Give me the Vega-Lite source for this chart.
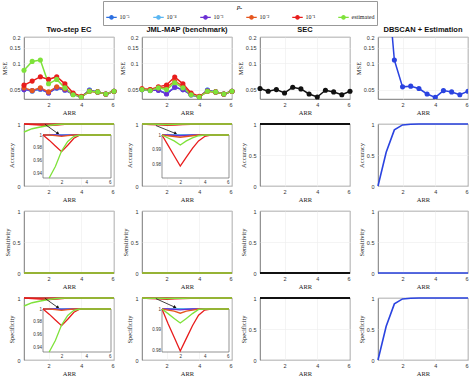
{
  "$schema": "https://vega.github.io/schema/vega-lite/v6.json",
  "padding": {"left": 0, "right": 2, "top": 0, "bottom": 0},
  "background": "white",
  "datasets": {
    "mse1": [
      {"ARR": 0.5, "10⁻⁵": 0.0500, "10⁻⁴": 0.0500, "10⁻³": 0.0500, "10⁻²": 0.0523, "10⁻¹": 0.0562, "estimated": 0.0833},
      {"ARR": 1, "10⁻⁵": 0.0482, "10⁻⁴": 0.0482, "10⁻³": 0.0487, "10⁻²": 0.0487, "10⁻¹": 0.0625, "estimated": 0.1051},
      {"ARR": 1.5, "10⁻⁵": 0.0505, "10⁻⁴": 0.0505, "10⁻³": 0.0510, "10⁻²": 0.0523, "10⁻¹": 0.0702, "estimated": 0.1089},
      {"ARR": 2, "10⁻⁵": 0.0460, "10⁻⁴": 0.0460, "10⁻³": 0.0457, "10⁻²": 0.0470, "10⁻¹": 0.0654, "estimated": 0.0582},
      {"ARR": 2.5, "10⁻⁵": 0.0520, "10⁻⁴": 0.0520, "10⁻³": 0.0523, "10⁻²": 0.0537, "10⁻¹": 0.0702, "estimated": 0.0654},
      {"ARR": 3, "10⁻⁵": 0.0495, "10⁻⁴": 0.0495, "10⁻³": 0.0495, "10⁻²": 0.0510, "10⁻¹": 0.0582, "estimated": 0.0523},
      {"ARR": 3.5, "10⁻⁵": 0.0440, "10⁻⁴": 0.0440, "10⁻³": 0.0445, "10⁻²": 0.0445, "10⁻¹": 0.0457, "estimated": 0.0437},
      {"ARR": 4, "10⁻⁵": 0.0411, "10⁻⁴": 0.0411, "10⁻³": 0.0411, "10⁻²": 0.0411, "10⁻¹": 0.0418, "estimated": 0.0411},
      {"ARR": 4.5, "10⁻⁵": 0.0495, "10⁻⁴": 0.0495, "10⁻³": 0.0487, "10⁻²": 0.0478, "10⁻¹": 0.0478, "estimated": 0.0478},
      {"ARR": 5, "10⁻⁵": 0.0470, "10⁻⁴": 0.0470, "10⁻³": 0.0470, "10⁻²": 0.0470, "10⁻¹": 0.0470, "estimated": 0.0470},
      {"ARR": 5.5, "10⁻⁵": 0.0445, "10⁻⁴": 0.0445, "10⁻³": 0.0445, "10⁻²": 0.0445, "10⁻¹": 0.0445, "estimated": 0.0445},
      {"ARR": 6, "10⁻⁵": 0.0478, "10⁻⁴": 0.0478, "10⁻³": 0.0478, "10⁻²": 0.0478, "10⁻¹": 0.0478, "estimated": 0.0478}
    ],
    "mse2": [
      {"ARR": 0.5, "10⁻⁵": 0.0500, "10⁻⁴": 0.0500, "10⁻³": 0.0500, "10⁻²": 0.0509, "10⁻¹": 0.0509, "estimated": 0.0500},
      {"ARR": 1, "10⁻⁵": 0.0490, "10⁻⁴": 0.0490, "10⁻³": 0.0490, "10⁻²": 0.0500, "10⁻¹": 0.0500, "estimated": 0.0487},
      {"ARR": 1.5, "10⁻⁵": 0.0495, "10⁻⁴": 0.0495, "10⁻³": 0.0490, "10⁻²": 0.0523, "10⁻¹": 0.0537, "estimated": 0.0523},
      {"ARR": 2, "10⁻⁵": 0.0450, "10⁻⁴": 0.0450, "10⁻³": 0.0445, "10⁻²": 0.0530, "10⁻¹": 0.0565, "estimated": 0.0500},
      {"ARR": 2.5, "10⁻⁵": 0.0530, "10⁻⁴": 0.0530, "10⁻³": 0.0532, "10⁻²": 0.0625, "10⁻¹": 0.0696, "estimated": 0.0598},
      {"ARR": 3, "10⁻⁵": 0.0500, "10⁻⁴": 0.0500, "10⁻³": 0.0500, "10⁻²": 0.0547, "10⁻¹": 0.0582, "estimated": 0.0523},
      {"ARR": 3.5, "10⁻⁵": 0.0437, "10⁻⁴": 0.0437, "10⁻³": 0.0437, "10⁻²": 0.0445, "10⁻¹": 0.0457, "estimated": 0.0437},
      {"ARR": 4, "10⁻⁵": 0.0411, "10⁻⁴": 0.0411, "10⁻³": 0.0411, "10⁻²": 0.0415, "10⁻¹": 0.0418, "estimated": 0.0411},
      {"ARR": 4.5, "10⁻⁵": 0.0495, "10⁻⁴": 0.0495, "10⁻³": 0.0487, "10⁻²": 0.0478, "10⁻¹": 0.0478, "estimated": 0.0478},
      {"ARR": 5, "10⁻⁵": 0.0470, "10⁻⁴": 0.0470, "10⁻³": 0.0470, "10⁻²": 0.0470, "10⁻¹": 0.0470, "estimated": 0.0470},
      {"ARR": 5.5, "10⁻⁵": 0.0445, "10⁻⁴": 0.0445, "10⁻³": 0.0445, "10⁻²": 0.0445, "10⁻¹": 0.0445, "estimated": 0.0445},
      {"ARR": 6, "10⁻⁵": 0.0478, "10⁻⁴": 0.0478, "10⁻³": 0.0478, "10⁻²": 0.0478, "10⁻¹": 0.0478, "estimated": 0.0478}
    ],
    "acc1": [
      {"ARR": 0.5, "10⁻⁵": 1, "10⁻⁴": 1, "10⁻³": 1, "10⁻²": 1, "10⁻¹": 1, "estimated": 0.87},
      {"ARR": 1, "10⁻⁵": 1, "10⁻⁴": 1, "10⁻³": 1, "10⁻²": 1, "10⁻¹": 0.992, "estimated": 0.925},
      {"ARR": 1.5, "10⁻⁵": 1, "10⁻⁴": 1, "10⁻³": 1, "10⁻²": 0.999, "10⁻¹": 0.983, "estimated": 0.951},
      {"ARR": 2, "10⁻⁵": 1, "10⁻⁴": 1, "10⁻³": 0.9995, "10⁻²": 0.998, "10⁻¹": 0.974, "estimated": 0.975},
      {"ARR": 2.5, "10⁻⁵": 1, "10⁻⁴": 1, "10⁻³": 0.9998, "10⁻²": 0.999, "10⁻¹": 0.984, "estimated": 0.99},
      {"ARR": 3, "10⁻⁵": 1, "10⁻⁴": 1, "10⁻³": 1, "10⁻²": 1, "10⁻¹": 0.995, "estimated": 0.998},
      {"ARR": 3.5, "10⁻⁵": 1, "10⁻⁴": 1, "10⁻³": 1, "10⁻²": 1, "10⁻¹": 1, "estimated": 1},
      {"ARR": 4, "10⁻⁵": 1, "10⁻⁴": 1, "10⁻³": 1, "10⁻²": 1, "10⁻¹": 1, "estimated": 1},
      {"ARR": 4.5, "10⁻⁵": 1, "10⁻⁴": 1, "10⁻³": 1, "10⁻²": 1, "10⁻¹": 1, "estimated": 1},
      {"ARR": 5, "10⁻⁵": 1, "10⁻⁴": 1, "10⁻³": 1, "10⁻²": 1, "10⁻¹": 1, "estimated": 1},
      {"ARR": 5.5, "10⁻⁵": 1, "10⁻⁴": 1, "10⁻³": 1, "10⁻²": 1, "10⁻¹": 1, "estimated": 1},
      {"ARR": 6, "10⁻⁵": 1, "10⁻⁴": 1, "10⁻³": 1, "10⁻²": 1, "10⁻¹": 1, "estimated": 1}
    ],
    "acc2": [
      {"ARR": 0.5, "10⁻⁵": 1, "10⁻⁴": 1, "10⁻³": 1, "10⁻²": 1, "10⁻¹": 1, "estimated": 1},
      {"ARR": 1, "10⁻⁵": 1, "10⁻⁴": 1, "10⁻³": 1, "10⁻²": 0.9995, "10⁻¹": 0.993, "estimated": 0.998},
      {"ARR": 1.5, "10⁻⁵": 1, "10⁻⁴": 1, "10⁻³": 0.9998, "10⁻²": 0.999, "10⁻¹": 0.986, "estimated": 0.996},
      {"ARR": 2, "10⁻⁵": 1, "10⁻⁴": 1, "10⁻³": 0.9995, "10⁻²": 0.9985, "10⁻¹": 0.979, "estimated": 0.9933},
      {"ARR": 2.5, "10⁻⁵": 1, "10⁻⁴": 1, "10⁻³": 0.9998, "10⁻²": 0.999, "10⁻¹": 0.985, "estimated": 0.996},
      {"ARR": 3, "10⁻⁵": 1, "10⁻⁴": 1, "10⁻³": 1, "10⁻²": 0.9995, "10⁻¹": 0.991, "estimated": 0.998},
      {"ARR": 3.5, "10⁻⁵": 1, "10⁻⁴": 1, "10⁻³": 1, "10⁻²": 1, "10⁻¹": 0.996, "estimated": 0.9995},
      {"ARR": 4, "10⁻⁵": 1, "10⁻⁴": 1, "10⁻³": 1, "10⁻²": 1, "10⁻¹": 0.999, "estimated": 1},
      {"ARR": 4.5, "10⁻⁵": 1, "10⁻⁴": 1, "10⁻³": 1, "10⁻²": 1, "10⁻¹": 1, "estimated": 1},
      {"ARR": 5, "10⁻⁵": 1, "10⁻⁴": 1, "10⁻³": 1, "10⁻²": 1, "10⁻¹": 1, "estimated": 1},
      {"ARR": 5.5, "10⁻⁵": 1, "10⁻⁴": 1, "10⁻³": 1, "10⁻²": 1, "10⁻¹": 1, "estimated": 1},
      {"ARR": 6, "10⁻⁵": 1, "10⁻⁴": 1, "10⁻³": 1, "10⁻²": 1, "10⁻¹": 1, "estimated": 1}
    ],
    "spec2": [
      {"ARR": 0.5, "10⁻⁵": 1, "10⁻⁴": 1, "10⁻³": 1, "10⁻²": 1, "10⁻¹": 1, "estimated": 1},
      {"ARR": 1, "10⁻⁵": 1, "10⁻⁴": 1, "10⁻³": 1, "10⁻²": 0.9995, "10⁻¹": 0.993, "estimated": 0.9978},
      {"ARR": 1.5, "10⁻⁵": 1, "10⁻⁴": 1, "10⁻³": 0.9998, "10⁻²": 0.999, "10⁻¹": 0.9865, "estimated": 0.9955},
      {"ARR": 2, "10⁻⁵": 1, "10⁻⁴": 1, "10⁻³": 0.9996, "10⁻²": 0.998, "10⁻¹": 0.98, "estimated": 0.9933},
      {"ARR": 2.5, "10⁻⁵": 1, "10⁻⁴": 1, "10⁻³": 0.9998, "10⁻²": 0.999, "10⁻¹": 0.986, "estimated": 0.9955},
      {"ARR": 3, "10⁻⁵": 1, "10⁻⁴": 1, "10⁻³": 1, "10⁻²": 0.9995, "10⁻¹": 0.992, "estimated": 0.9978},
      {"ARR": 3.5, "10⁻⁵": 1, "10⁻⁴": 1, "10⁻³": 1, "10⁻²": 1, "10⁻¹": 0.997, "estimated": 0.9998},
      {"ARR": 4, "10⁻⁵": 1, "10⁻⁴": 1, "10⁻³": 1, "10⁻²": 1, "10⁻¹": 0.9995, "estimated": 1},
      {"ARR": 4.5, "10⁻⁵": 1, "10⁻⁴": 1, "10⁻³": 1, "10⁻²": 1, "10⁻¹": 1, "estimated": 1},
      {"ARR": 5, "10⁻⁵": 1, "10⁻⁴": 1, "10⁻³": 1, "10⁻²": 1, "10⁻¹": 1, "estimated": 1},
      {"ARR": 5.5, "10⁻⁵": 1, "10⁻⁴": 1, "10⁻³": 1, "10⁻²": 1, "10⁻¹": 1, "estimated": 1},
      {"ARR": 6, "10⁻⁵": 1, "10⁻⁴": 1, "10⁻³": 1, "10⁻²": 1, "10⁻¹": 1, "estimated": 1}
    ],
    "sens": [
      {"ARR": 0.5, "10⁻⁵": 0, "10⁻⁴": 0, "10⁻³": 0, "10⁻²": 0, "10⁻¹": 0, "estimated": 0},
      {"ARR": 1, "10⁻⁵": 0, "10⁻⁴": 0, "10⁻³": 0, "10⁻²": 0, "10⁻¹": 0, "estimated": 0},
      {"ARR": 1.5, "10⁻⁵": 0, "10⁻⁴": 0, "10⁻³": 0, "10⁻²": 0, "10⁻¹": 0, "estimated": 0},
      {"ARR": 2, "10⁻⁵": 0, "10⁻⁴": 0, "10⁻³": 0, "10⁻²": 0, "10⁻¹": 0, "estimated": 0},
      {"ARR": 2.5, "10⁻⁵": 0, "10⁻⁴": 0, "10⁻³": 0, "10⁻²": 0, "10⁻¹": 0, "estimated": 0},
      {"ARR": 3, "10⁻⁵": 0, "10⁻⁴": 0, "10⁻³": 0, "10⁻²": 0, "10⁻¹": 0, "estimated": 0},
      {"ARR": 3.5, "10⁻⁵": 0, "10⁻⁴": 0, "10⁻³": 0, "10⁻²": 0, "10⁻¹": 0, "estimated": 0},
      {"ARR": 4, "10⁻⁵": 0, "10⁻⁴": 0, "10⁻³": 0, "10⁻²": 0, "10⁻¹": 0, "estimated": 0},
      {"ARR": 4.5, "10⁻⁵": 0, "10⁻⁴": 0, "10⁻³": 0, "10⁻²": 0, "10⁻¹": 0, "estimated": 0},
      {"ARR": 5, "10⁻⁵": 0, "10⁻⁴": 0, "10⁻³": 0, "10⁻²": 0, "10⁻¹": 0, "estimated": 0},
      {"ARR": 5.5, "10⁻⁵": 0, "10⁻⁴": 0, "10⁻³": 0, "10⁻²": 0, "10⁻¹": 0, "estimated": 0},
      {"ARR": 6, "10⁻⁵": 0, "10⁻⁴": 0, "10⁻³": 0, "10⁻²": 0, "10⁻¹": 0, "estimated": 0}
    ],
    "sec": [
      {"ARR": 0.5, "MSE": 0.0514, "Accuracy": 1, "Sensitivity": 0, "Specificity": 1},
      {"ARR": 1, "MSE": 0.0478, "Accuracy": 1, "Sensitivity": 0, "Specificity": 1},
      {"ARR": 1.5, "MSE": 0.0500, "Accuracy": 1, "Sensitivity": 0, "Specificity": 1},
      {"ARR": 2, "MSE": 0.0457, "Accuracy": 1, "Sensitivity": 0, "Specificity": 1},
      {"ARR": 2.5, "MSE": 0.0532, "Accuracy": 1, "Sensitivity": 0, "Specificity": 1},
      {"ARR": 3, "MSE": 0.0509, "Accuracy": 1, "Sensitivity": 0, "Specificity": 1},
      {"ARR": 3.5, "MSE": 0.0445, "Accuracy": 1, "Sensitivity": 0, "Specificity": 1},
      {"ARR": 4, "MSE": 0.0411, "Accuracy": 1, "Sensitivity": 0, "Specificity": 1},
      {"ARR": 4.5, "MSE": 0.0491, "Accuracy": 1, "Sensitivity": 0, "Specificity": 1},
      {"ARR": 5, "MSE": 0.0470, "Accuracy": 1, "Sensitivity": 0, "Specificity": 1},
      {"ARR": 5.5, "MSE": 0.0437, "Accuracy": 1, "Sensitivity": 0, "Specificity": 1},
      {"ARR": 6, "MSE": 0.0478, "Accuracy": 1, "Sensitivity": 0, "Specificity": 1}
    ],
    "dbscan": [
      {"ARR": 0.5, "MSE": 3.0, "Accuracy": 0, "Sensitivity": 0, "Specificity": 0},
      {"ARR": 1, "MSE": 1.3, "Accuracy": 0.545, "Sensitivity": 0, "Specificity": 0.545},
      {"ARR": 1.5, "MSE": 0.1089, "Accuracy": 0.905, "Sensitivity": 0, "Specificity": 0.905},
      {"ARR": 2, "MSE": 0.0537, "Accuracy": 0.985, "Sensitivity": 0, "Specificity": 0.985},
      {"ARR": 2.5, "MSE": 0.0547, "Accuracy": 0.997, "Sensitivity": 0, "Specificity": 0.997},
      {"ARR": 3, "MSE": 0.0514, "Accuracy": 1, "Sensitivity": 0, "Specificity": 1},
      {"ARR": 3.5, "MSE": 0.0445, "Accuracy": 1, "Sensitivity": 0, "Specificity": 1},
      {"ARR": 4, "MSE": 0.0407, "Accuracy": 1, "Sensitivity": 0, "Specificity": 1},
      {"ARR": 4.5, "MSE": 0.0487, "Accuracy": 1, "Sensitivity": 0, "Specificity": 1},
      {"ARR": 5, "MSE": 0.0470, "Accuracy": 1, "Sensitivity": 0, "Specificity": 1},
      {"ARR": 5.5, "MSE": 0.0437, "Accuracy": 1, "Sensitivity": 0, "Specificity": 1},
      {"ARR": 6, "MSE": 0.0478, "Accuracy": 1, "Sensitivity": 0, "Specificity": 1}
    ]
  },
  "columns": 4,
  "spacing": {"row": 25, "column": 28},
  "bounds": "flush",
  "resolve": {"scale": {"color": "shared"}},
  "concat": [
    {
      "title": "Two-step EC", "width": 90, "height": 62,
      "data": {"name": "mse1"},
      "transform": [{"fold": ["10⁻⁵", "10⁻⁴", "10⁻³", "10⁻²", "10⁻¹", "estimated"], "as": ["pa", "value"]}],
      "mark": {"type": "line", "strokeWidth": 1.5, "point": {"filled": true, "size": 26, "opacity": 1}},
      "encoding": {
        "x": {"field": "ARR", "type": "quantitative", "scale": {"domain": [0.5, 6], "nice": false}, "axis": {"values": [2, 4, 6], "title": "ARR"}},
        "y": {"field": "value", "type": "quantitative", "scale": {"type": "log", "domain": [0.039, 0.2], "nice": false}, "axis": {"values": [0.05, 0.1, 0.15, 0.2], "format": "~g", "title": "MSE"}},
        "color": {"field": "pa", "type": "nominal",
          "scale": {"domain": ["10⁻⁵", "10⁻⁴", "10⁻³", "10⁻²", "10⁻¹", "estimated"], "range": ["#2b6fe0", "#5ab6f2", "#6b2fd4", "#e5561e", "#e81c1c", "#7ee23a"]},
          "legend": {"orient": "none", "legendX": 79, "legendY": -36, "direction": "horizontal", "title": "pₐ",
            "titleFont": "Liberation Serif", "titleFontStyle": "italic", "titleFontWeight": "normal", "titleFontSize": 6.5, "titleAnchor": "middle", "titleOrient": "top", "titlePadding": 1,
            "labelFont": "Liberation Serif", "labelFontSize": 6, "labelOffset": 2, "labelColor": "#222",
            "symbolType": "M-1,0H1M-0.32,0A0.32,0.32,0,1,1,0.32,0A0.32,0.32,0,1,1,-0.32,0Z", "symbolSize": 110, "symbolStrokeWidth": 1.3,
            "columnPadding": 20, "padding": 2.5, "strokeColor": "#999",
            "encode": {"symbols": {"update": {"fill": {"scale": "color", "field": "value"}, "stroke": {"scale": "color", "field": "value"}}}}}
        }
      }
    },
    {
      "title": "JML-MAP (benchmark)", "width": 90, "height": 62,
      "data": {"name": "mse2"},
      "transform": [{"fold": ["10⁻⁵", "10⁻⁴", "10⁻³", "10⁻²", "10⁻¹", "estimated"], "as": ["pa", "value"]}],
      "mark": {"type": "line", "strokeWidth": 1.5, "point": {"filled": true, "size": 26, "opacity": 1}},
      "encoding": {
        "x": {"field": "ARR", "type": "quantitative", "scale": {"domain": [0.5, 6], "nice": false}, "axis": {"values": [2, 4, 6], "title": "ARR"}},
        "y": {"field": "value", "type": "quantitative", "scale": {"type": "log", "domain": [0.039, 0.2], "nice": false}, "axis": {"values": [0.05, 0.1, 0.15, 0.2], "format": "~g", "title": "MSE"}},
        "color": {"field": "pa", "type": "nominal"}
      }
    },
    {
      "title": "SEC", "width": 90, "height": 62,
      "data": {"name": "sec"},
      "mark": {"type": "line", "strokeWidth": 1.5, "color": "#111", "point": {"filled": true, "size": 26, "opacity": 1, "color": "#111"}},
      "encoding": {
        "x": {"field": "ARR", "type": "quantitative", "scale": {"domain": [0.5, 6], "nice": false}, "axis": {"values": [2, 4, 6], "title": "ARR"}},
        "y": {"field": "MSE", "type": "quantitative", "scale": {"type": "log", "domain": [0.039, 0.2], "nice": false}, "axis": {"values": [0.05, 0.1, 0.15, 0.2], "format": "~g", "title": "MSE"}}
      }
    },
    {
      "title": "DBSCAN + Estimation", "width": 90, "height": 62,
      "data": {"name": "dbscan"},
      "encoding": {
        "x": {"field": "ARR", "type": "quantitative", "scale": {"domain": [0.5, 6], "nice": false}, "axis": {"values": [2, 4, 6], "title": "ARR"}},
        "y": {"field": "MSE", "type": "quantitative", "scale": {"type": "log", "domain": [0.039, 0.2], "nice": false}, "axis": {"values": [0.05, 0.1, 0.15, 0.2], "format": "~g", "title": "MSE"}}
      },
      "layer": [
        {"mark": {"type": "line", "strokeWidth": 1.5, "color": "#2a43e0", "clip": true}},
        {"mark": {"type": "point", "filled": true, "size": 26, "opacity": 1, "color": "#2a43e0", "clip": true}}
      ]
    },
    {
      "width": 90, "height": 62,
      "resolve": {"scale": {"x": "independent", "y": "independent"}},
      "layer": [
        {"layer": [
          {"data": {"name": "acc1"},
           "transform": [{"fold": ["10⁻⁵", "10⁻⁴", "10⁻³", "10⁻²", "10⁻¹", "estimated"], "as": ["pa", "value"]}],
           "mark": {"type": "line", "strokeWidth": 1.5},
           "encoding": {
             "x": {"field": "ARR", "type": "quantitative", "scale": {"domain": [0.5, 6], "nice": false}, "axis": {"values": [2, 4, 6], "title": "ARR"}},
             "y": {"field": "value", "type": "quantitative", "scale": {"domain": [0, 1], "nice": false}, "axis": {"values": [0, 0.5, 1], "format": "~g", "title": "Accuracy"}},
             "color": {"field": "pa", "type": "nominal"}}},
          {"data": {"values": [{}]}, "mark": {"type": "rule", "color": "#111", "strokeWidth": 0.8},
           "encoding": {"x": {"datum": 1.78}, "y": {"datum": 0.995}, "x2": {"datum": 2.55}, "y2": {"datum": 0.85}}},
          {"data": {"values": [{}]}, "mark": {"type": "point", "shape": "triangle-up", "filled": true, "opacity": 1, "color": "#111", "size": 14, "angle": 126},
           "encoding": {"x": {"datum": 2.58}, "y": {"datum": 0.845}}}
        ]},
        {"layer": [
          {"data": {"values": [{}]}, "mark": {"type": "rect", "fill": "white", "stroke": "#666", "strokeWidth": 0.7},
           "encoding": {
             "x": {"datum": 0.5, "type": "quantitative", "scale": {"domain": [0.5, 6], "range": [19, 87], "nice": false}, "axis": {"orient": "bottom", "offset": -8, "values": [2, 4, 6], "title": null, "grid": false, "labelFontSize": 4.5, "labelPadding": 1}},
             "x2": {"datum": 6},
             "y": {"datum": 0.933, "type": "quantitative", "scale": {"domain": [0.933, 1], "range": [54, 11], "nice": false, "zero": false, "clamp": true}, "axis": {"orient": "left", "offset": -19, "values": [0.94, 0.96, 0.98, 1], "format": "~g", "title": null, "grid": false, "labelFontSize": 4.5, "labelPadding": 1.5}},
             "y2": {"datum": 1}}},
          {"data": {"name": "acc1"},
           "transform": [{"fold": ["10⁻⁵", "10⁻⁴", "10⁻³", "10⁻²", "10⁻¹", "estimated"], "as": ["pa", "value"]}, {"filter": "datum.ARR >= 1 || datum.pa != 'estimated'"}],
           "mark": {"type": "line", "strokeWidth": 1.3},
           "encoding": {
             "x": {"field": "ARR", "type": "quantitative", "axis": {"orient": "bottom", "offset": -8, "values": [2, 4, 6], "title": null, "grid": false, "labelFontSize": 4.5, "labelPadding": 1}},
             "y": {"field": "value", "type": "quantitative", "axis": {"orient": "left", "offset": -19, "values": [0.94, 0.96, 0.98, 1], "format": "~g", "title": null, "grid": false, "labelFontSize": 4.5, "labelPadding": 1.5}},
             "color": {"field": "pa", "type": "nominal"}}}
        ]}
      ]
    },
    {
      "width": 90, "height": 62,
      "resolve": {"scale": {"x": "independent", "y": "independent"}},
      "layer": [
        {"layer": [
          {"data": {"name": "acc2"},
           "transform": [{"fold": ["10⁻⁵", "10⁻⁴", "10⁻³", "10⁻²", "10⁻¹", "estimated"], "as": ["pa", "value"]}],
           "mark": {"type": "line", "strokeWidth": 1.5},
           "encoding": {
             "x": {"field": "ARR", "type": "quantitative", "scale": {"domain": [0.5, 6], "nice": false}, "axis": {"values": [2, 4, 6], "title": "ARR"}},
             "y": {"field": "value", "type": "quantitative", "scale": {"domain": [0, 1], "nice": false}, "axis": {"values": [0, 0.5, 1], "format": "~g", "title": "Accuracy"}},
             "color": {"field": "pa", "type": "nominal"}}},
          {"data": {"values": [{}]}, "mark": {"type": "rule", "color": "#111", "strokeWidth": 0.8},
           "encoding": {"x": {"datum": 1.35}, "y": {"datum": 0.975}, "x2": {"datum": 2.52}, "y2": {"datum": 0.85}}},
          {"data": {"values": [{}]}, "mark": {"type": "point", "shape": "triangle-up", "filled": true, "opacity": 1, "color": "#111", "size": 14, "angle": 113},
           "encoding": {"x": {"datum": 2.56}, "y": {"datum": 0.845}}}
        ]},
        {"layer": [
          {"data": {"values": [{}]}, "mark": {"type": "rect", "fill": "white", "stroke": "#666", "strokeWidth": 0.7},
           "encoding": {
             "x": {"datum": 0.5, "type": "quantitative", "scale": {"domain": [0.5, 6], "range": [20, 87], "nice": false}, "axis": {"orient": "bottom", "offset": -8, "values": [2, 4, 6], "title": null, "grid": false, "labelFontSize": 4.5, "labelPadding": 1}},
             "x2": {"datum": 6},
             "y": {"datum": 0.971, "type": "quantitative", "scale": {"domain": [0.971, 1], "range": [54, 11], "nice": false, "zero": false, "clamp": true}, "axis": {"orient": "left", "offset": -20, "values": [0.98, 0.99, 1], "format": "~g", "title": null, "grid": false, "labelFontSize": 4.5, "labelPadding": 1.5}},
             "y2": {"datum": 1}}},
          {"data": {"name": "acc2"},
           "transform": [{"fold": ["10⁻⁵", "10⁻⁴", "10⁻³", "10⁻²", "10⁻¹", "estimated"], "as": ["pa", "value"]}],
           "mark": {"type": "line", "strokeWidth": 1.3},
           "encoding": {
             "x": {"field": "ARR", "type": "quantitative", "axis": {"orient": "bottom", "offset": -8, "values": [2, 4, 6], "title": null, "grid": false, "labelFontSize": 4.5, "labelPadding": 1}},
             "y": {"field": "value", "type": "quantitative", "axis": {"orient": "left", "offset": -20, "values": [0.98, 0.99, 1], "format": "~g", "title": null, "grid": false, "labelFontSize": 4.5, "labelPadding": 1.5}},
             "color": {"field": "pa", "type": "nominal"}}}
        ]}
      ]
    },
    {
      "width": 90, "height": 62,
      "data": {"name": "sec"},
      "mark": {"type": "line", "strokeWidth": 2, "color": "#111"},
      "encoding": {
        "x": {"field": "ARR", "type": "quantitative", "scale": {"domain": [0.5, 6], "nice": false}, "axis": {"values": [2, 4, 6], "title": "ARR"}},
        "y": {"field": "Accuracy", "type": "quantitative", "scale": {"domain": [0, 1], "nice": false}, "axis": {"values": [0, 0.5, 1], "format": "~g", "title": "Accuracy"}}
      }
    },
    {
      "width": 90, "height": 62,
      "data": {"name": "dbscan"},
      "mark": {"type": "line", "strokeWidth": 1.6, "color": "#2a43e0"},
      "encoding": {
        "x": {"field": "ARR", "type": "quantitative", "scale": {"domain": [0.5, 6], "nice": false}, "axis": {"values": [2, 4, 6], "title": "ARR"}},
        "y": {"field": "Accuracy", "type": "quantitative", "scale": {"domain": [0, 1], "nice": false}, "axis": {"values": [0, 0.5, 1], "format": "~g", "title": "Accuracy"}}
      }
    },
    {
      "width": 90, "height": 62,
      "data": {"name": "sens"},
      "transform": [{"fold": ["10⁻⁵", "10⁻⁴", "10⁻³", "10⁻²", "10⁻¹", "estimated"], "as": ["pa", "value"]}],
      "mark": {"type": "line", "strokeWidth": 1.5},
      "encoding": {
        "x": {"field": "ARR", "type": "quantitative", "scale": {"domain": [0.5, 6], "nice": false}, "axis": {"values": [2, 4, 6], "title": "ARR"}},
        "y": {"field": "value", "type": "quantitative", "scale": {"domain": [0, 1], "nice": false}, "axis": {"values": [0, 0.5, 1], "format": "~g", "title": "Sensitivity"}},
        "color": {"field": "pa", "type": "nominal"}
      }
    },
    {
      "width": 90, "height": 62,
      "data": {"name": "sens"},
      "transform": [{"fold": ["10⁻⁵", "10⁻⁴", "10⁻³", "10⁻²", "10⁻¹", "estimated"], "as": ["pa", "value"]}],
      "mark": {"type": "line", "strokeWidth": 1.5},
      "encoding": {
        "x": {"field": "ARR", "type": "quantitative", "scale": {"domain": [0.5, 6], "nice": false}, "axis": {"values": [2, 4, 6], "title": "ARR"}},
        "y": {"field": "value", "type": "quantitative", "scale": {"domain": [0, 1], "nice": false}, "axis": {"values": [0, 0.5, 1], "format": "~g", "title": "Sensitivity"}},
        "color": {"field": "pa", "type": "nominal"}
      }
    },
    {
      "width": 90, "height": 62,
      "data": {"name": "sec"},
      "mark": {"type": "line", "strokeWidth": 2, "color": "#111"},
      "encoding": {
        "x": {"field": "ARR", "type": "quantitative", "scale": {"domain": [0.5, 6], "nice": false}, "axis": {"values": [2, 4, 6], "title": "ARR"}},
        "y": {"field": "Sensitivity", "type": "quantitative", "scale": {"domain": [0, 1], "nice": false}, "axis": {"values": [0, 0.5, 1], "format": "~g", "title": "Sensitivity"}}
      }
    },
    {
      "width": 90, "height": 62,
      "data": {"name": "dbscan"},
      "mark": {"type": "line", "strokeWidth": 1.6, "color": "#2a43e0"},
      "encoding": {
        "x": {"field": "ARR", "type": "quantitative", "scale": {"domain": [0.5, 6], "nice": false}, "axis": {"values": [2, 4, 6], "title": "ARR"}},
        "y": {"field": "Sensitivity", "type": "quantitative", "scale": {"domain": [0, 1], "nice": false}, "axis": {"values": [0, 0.5, 1], "format": "~g", "title": "Sensitivity"}}
      }
    },
    {
      "width": 90, "height": 62,
      "resolve": {"scale": {"x": "independent", "y": "independent"}},
      "layer": [
        {"layer": [
          {"data": {"name": "acc1"},
           "transform": [{"fold": ["10⁻⁵", "10⁻⁴", "10⁻³", "10⁻²", "10⁻¹", "estimated"], "as": ["pa", "value"]}],
           "mark": {"type": "line", "strokeWidth": 1.5},
           "encoding": {
             "x": {"field": "ARR", "type": "quantitative", "scale": {"domain": [0.5, 6], "nice": false}, "axis": {"values": [2, 4, 6], "title": "ARR"}},
             "y": {"field": "value", "type": "quantitative", "scale": {"domain": [0, 1], "nice": false}, "axis": {"values": [0, 0.5, 1], "format": "~g", "title": "Specificity"}},
             "color": {"field": "pa", "type": "nominal"}}},
          {"data": {"values": [{}]}, "mark": {"type": "rule", "color": "#111", "strokeWidth": 0.8},
           "encoding": {"x": {"datum": 1.78}, "y": {"datum": 0.995}, "x2": {"datum": 2.55}, "y2": {"datum": 0.85}}},
          {"data": {"values": [{}]}, "mark": {"type": "point", "shape": "triangle-up", "filled": true, "opacity": 1, "color": "#111", "size": 14, "angle": 126},
           "encoding": {"x": {"datum": 2.58}, "y": {"datum": 0.845}}}
        ]},
        {"layer": [
          {"data": {"values": [{}]}, "mark": {"type": "rect", "fill": "white", "stroke": "#666", "strokeWidth": 0.7},
           "encoding": {
             "x": {"datum": 0.5, "type": "quantitative", "scale": {"domain": [0.5, 6], "range": [19, 87], "nice": false}, "axis": {"orient": "bottom", "offset": -8, "values": [2, 4, 6], "title": null, "grid": false, "labelFontSize": 4.5, "labelPadding": 1}},
             "x2": {"datum": 6},
             "y": {"datum": 0.933, "type": "quantitative", "scale": {"domain": [0.933, 1], "range": [54, 11], "nice": false, "zero": false, "clamp": true}, "axis": {"orient": "left", "offset": -19, "values": [0.94, 0.96, 0.98, 1], "format": "~g", "title": null, "grid": false, "labelFontSize": 4.5, "labelPadding": 1.5}},
             "y2": {"datum": 1}}},
          {"data": {"name": "acc1"},
           "transform": [{"fold": ["10⁻⁵", "10⁻⁴", "10⁻³", "10⁻²", "10⁻¹", "estimated"], "as": ["pa", "value"]}, {"filter": "datum.ARR >= 1 || datum.pa != 'estimated'"}],
           "mark": {"type": "line", "strokeWidth": 1.3},
           "encoding": {
             "x": {"field": "ARR", "type": "quantitative", "axis": {"orient": "bottom", "offset": -8, "values": [2, 4, 6], "title": null, "grid": false, "labelFontSize": 4.5, "labelPadding": 1}},
             "y": {"field": "value", "type": "quantitative", "axis": {"orient": "left", "offset": -19, "values": [0.94, 0.96, 0.98, 1], "format": "~g", "title": null, "grid": false, "labelFontSize": 4.5, "labelPadding": 1.5}},
             "color": {"field": "pa", "type": "nominal"}}}
        ]}
      ]
    },
    {
      "width": 90, "height": 62,
      "resolve": {"scale": {"x": "independent", "y": "independent"}},
      "layer": [
        {"layer": [
          {"data": {"name": "spec2"},
           "transform": [{"fold": ["10⁻⁵", "10⁻⁴", "10⁻³", "10⁻²", "10⁻¹", "estimated"], "as": ["pa", "value"]}],
           "mark": {"type": "line", "strokeWidth": 1.5},
           "encoding": {
             "x": {"field": "ARR", "type": "quantitative", "scale": {"domain": [0.5, 6], "nice": false}, "axis": {"values": [2, 4, 6], "title": "ARR"}},
             "y": {"field": "value", "type": "quantitative", "scale": {"domain": [0, 1], "nice": false}, "axis": {"values": [0, 0.5, 1], "format": "~g", "title": "Specificity"}},
             "color": {"field": "pa", "type": "nominal"}}},
          {"data": {"values": [{}]}, "mark": {"type": "rule", "color": "#111", "strokeWidth": 0.8},
           "encoding": {"x": {"datum": 1.35}, "y": {"datum": 0.99}, "x2": {"datum": 2.48}, "y2": {"datum": 0.855}}},
          {"data": {"values": [{}]}, "mark": {"type": "point", "shape": "triangle-up", "filled": true, "opacity": 1, "color": "#111", "size": 14, "angle": 117},
           "encoding": {"x": {"datum": 2.52}, "y": {"datum": 0.85}}}
        ]},
        {"layer": [
          {"data": {"values": [{}]}, "mark": {"type": "rect", "fill": "white", "stroke": "#666", "strokeWidth": 0.7},
           "encoding": {
             "x": {"datum": 0.5, "type": "quantitative", "scale": {"domain": [0.5, 6], "range": [20, 87], "nice": false}, "axis": {"orient": "bottom", "offset": -8, "values": [2, 4, 6], "title": null, "grid": false, "labelFontSize": 4.5, "labelPadding": 1}},
             "x2": {"datum": 6},
             "y": {"datum": 0.9795, "type": "quantitative", "scale": {"domain": [0.9795, 1], "range": [54, 11], "nice": false, "zero": false, "clamp": true}, "axis": {"orient": "left", "offset": -20, "values": [0.98, 0.99, 1], "format": "~g", "title": null, "grid": false, "labelFontSize": 4.5, "labelPadding": 1.5}},
             "y2": {"datum": 1}}},
          {"data": {"name": "spec2"},
           "transform": [{"fold": ["10⁻⁵", "10⁻⁴", "10⁻³", "10⁻²", "10⁻¹", "estimated"], "as": ["pa", "value"]}],
           "mark": {"type": "line", "strokeWidth": 1.3},
           "encoding": {
             "x": {"field": "ARR", "type": "quantitative", "axis": {"orient": "bottom", "offset": -8, "values": [2, 4, 6], "title": null, "grid": false, "labelFontSize": 4.5, "labelPadding": 1}},
             "y": {"field": "value", "type": "quantitative", "axis": {"orient": "left", "offset": -20, "values": [0.98, 0.99, 1], "format": "~g", "title": null, "grid": false, "labelFontSize": 4.5, "labelPadding": 1.5}},
             "color": {"field": "pa", "type": "nominal"}}}
        ]}
      ]
    },
    {
      "width": 90, "height": 62,
      "data": {"name": "sec"},
      "mark": {"type": "line", "strokeWidth": 2, "color": "#111"},
      "encoding": {
        "x": {"field": "ARR", "type": "quantitative", "scale": {"domain": [0.5, 6], "nice": false}, "axis": {"values": [2, 4, 6], "title": "ARR"}},
        "y": {"field": "Specificity", "type": "quantitative", "scale": {"domain": [0, 1], "nice": false}, "axis": {"values": [0, 0.5, 1], "format": "~g", "title": "Specificity"}}
      }
    },
    {
      "width": 90, "height": 62,
      "data": {"name": "dbscan"},
      "mark": {"type": "line", "strokeWidth": 1.6, "color": "#2a43e0"},
      "encoding": {
        "x": {"field": "ARR", "type": "quantitative", "scale": {"domain": [0.5, 6], "nice": false}, "axis": {"values": [2, 4, 6], "title": "ARR"}},
        "y": {"field": "Specificity", "type": "quantitative", "scale": {"domain": [0, 1], "nice": false}, "axis": {"values": [0, 0.5, 1], "format": "~g", "title": "Specificity"}}
      }
    }
  ],
  "config": {
    "view": {"stroke": "#555", "strokeWidth": 0.8},
    "title": {"font": "Liberation Sans", "fontSize": 7.5, "fontWeight": "bold", "offset": 2, "color": "#111"},
    "axis": {"labelFont": "Liberation Sans", "labelFontSize": 5.5, "labelColor": "#333", "titleFont": "Liberation Serif", "titleFontSize": 6.5, "titleFontWeight": "normal", "titleColor": "#222", "ticks": false, "domain": false, "grid": true, "gridColor": "#ececec", "gridWidth": 0.6},
    "axisX": {"labelPadding": 3, "titlePadding": 2},
    "axisY": {"labelPadding": 4, "titlePadding": 2}
  }
}
